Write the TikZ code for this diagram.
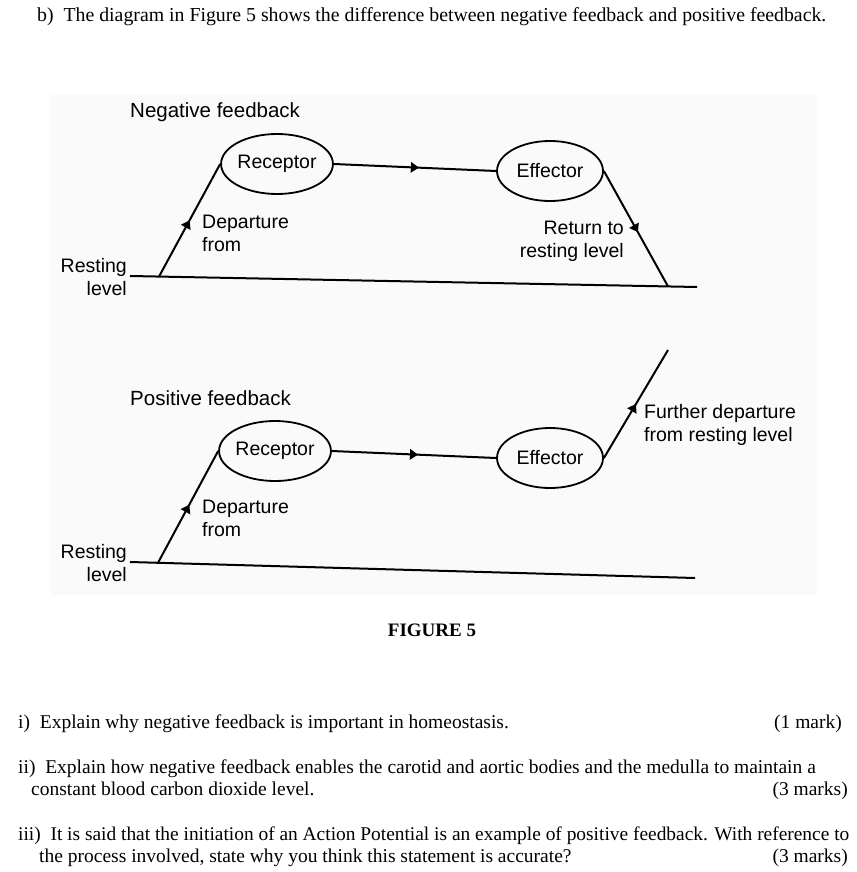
\documentclass[tikz,border=0pt]{standalone}
\usepackage{fontspec}
\setmainfont{Liberation Serif}
\newfontfamily\lsans{Liberation Sans}
\usetikzlibrary{shapes.geometric}
\begin{document}
\begin{tikzpicture}[x=1pt,y=-1pt,
  lbl/.style={font=\lsans\fontsize{19.5}{23}\selectfont, inner sep=0pt},
  head/.style={font=\lsans\fontsize{20.5}{24}\selectfont, inner sep=0pt},
  txt/.style={font=\fontsize{19.5}{23}\selectfont, inner sep=0pt, anchor=base west},
  oval/.style={draw, line width=1.8pt, ellipse, minimum width=106pt, minimum height=60pt, inner sep=0pt, font=\lsans\fontsize{19.5}{23}\selectfont},
  ln/.style={line width=2pt},
  arrowhead/.style={isosceles triangle, isosceles triangle stretches, fill=black, draw=none,
    inner sep=0pt, minimum width=11pt, minimum height=8pt, sloped, allow upside down,
    anchor=apex, pos=#1},
  arrowhead/.default=0.52
]
\useasboundingbox (0,0) rectangle (856,872);
\fill[black!2] (50,95) rectangle (817,595);

% title
\node[txt, font=\fontsize{19.8}{23}\selectfont] (title) at (37,22) {b)\ \ The diagram in Figure 5 shows the difference between negative feedback and positive feedback.};

% ---------- Negative feedback ----------
\node[head, anchor=west] (neg) at (130,112) {Negative feedback};
\node[oval] (rec1) at (277,164) {Receptor};
\node[oval] (eff1) at (550,171) {Effector};
\coordinate (b1s) at (130,276);
\coordinate (b1e) at (697,287);
\coordinate (d1) at (159,276.6);
\coordinate (r1) at (668,286.4);
\draw[ln] (b1s) -- (b1e);
\draw[ln] (d1) -- node[arrowhead=0.52] {} (rec1.west);
\draw[ln] (rec1.east) -- node[arrowhead=0.54] {} (eff1.west);
\draw[ln] (eff1.east) -- node[arrowhead=0.55] {} (r1);
\node[lbl, anchor=east, align=right] (rest1) at (127,277.5) {Resting\\level};
\node[lbl, anchor=west, align=left] (dep1) at (202,233.5) {Departure\\from};
\node[lbl, anchor=east, align=right] (ret1) at (624,241) {Return to\\resting level};

% ---------- Positive feedback ----------
\node[head, anchor=west] (pos) at (130,398) {Positive feedback};
\node[oval] (rec2) at (275,451) {Receptor};
\node[oval] (eff2) at (550,458) {Effector};
\coordinate (b2s) at (130,562);
\coordinate (b2e) at (695,578);
\coordinate (d2) at (158,562.8);
\coordinate (f2) at (668,350);
\draw[ln] (b2s) -- (b2e);
\draw[ln] (d2) -- node[arrowhead=0.54] {} (rec2.west);
\draw[ln] (rec2.east) -- node[arrowhead=0.54] {} (eff2.west);
\draw[ln] (eff2.east) -- node[arrowhead=0.52] {} (f2);
\node[lbl, anchor=east, align=right] (rest2) at (127,563) {Resting\\level};
\node[lbl, anchor=west, align=left] (dep2) at (202,518.5) {Departure\\from};
\node[lbl, anchor=west, align=left] (fur2) at (644,424.5) {Further departure\\from resting level};

% caption
\node[font=\bfseries\fontsize{19}{23}\selectfont, inner sep=0pt] (fig) at (432,630) {FIGURE 5};

% questions
\node[txt] (q1) at (18,728) {i)\ \ Explain why negative feedback is important in homeostasis.};
\node[txt, anchor=base east] (m1) at (842,728) {(1 mark)};
\node[txt] (q2a) at (18,773) {ii)\ \ Explain how negative feedback enables the carotid and aortic bodies and the medulla to maintain a};
\node[txt] (q2b) at (31,795) {constant blood carbon dioxide level.};
\node[txt, anchor=base east] (m2) at (848,795) {(3 marks)};
\node[txt, font=\fontsize{19.4}{23}\selectfont] (q3a) at (18,840) {iii)\ \ It is said that the initiation of an Action Potential is an example of positive feedback. With reference to};
\node[txt] (q3b) at (39,862) {the process involved, state why you think this statement is accurate?};
\node[txt, anchor=base east] (m3) at (848,862) {(3 marks)};
\end{tikzpicture}
\end{document}
